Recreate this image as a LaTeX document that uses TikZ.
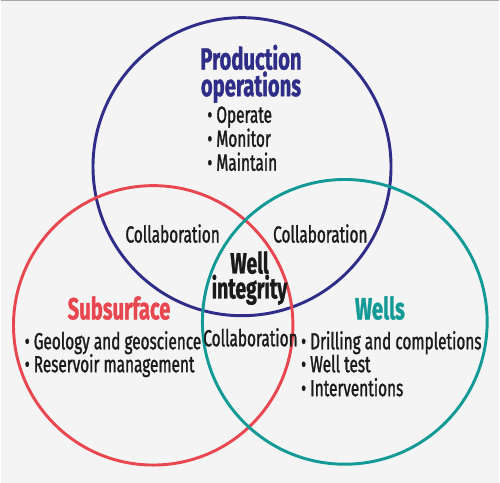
\documentclass[tikz,border=0pt]{standalone}
\usepackage{fontspec}
\setmainfont{Fira Sans}[FakeStretch=0.66,BoldFeatures={FakeBold=1}]
\newfontfamily\itemfont{Fira Sans}[FakeStretch=0.66,FakeBold=1.2]
\usepackage{xcolor}

\definecolor{prodblue}{HTML}{2E2D88}
\definecolor{subred}{HTML}{E8474F}
\definecolor{wellteal}{HTML}{139A96}
\definecolor{bggray}{HTML}{F4F4F4}
\definecolor{txtdark}{HTML}{1A1A1A}

\tikzset{
  ring/.style={circle,draw=#1,line width=2.2pt,inner sep=0pt},
  head/.style={inner sep=0pt,text=#1,font=\fontsize{23}{18}\selectfont\bfseries},
  item/.style={inner sep=0pt,anchor=base west,text=txtdark,font=\itemfont\fontsize{17.5}{18}\selectfont},
  collab/.style={item},
  core/.style={inner sep=0pt,text=txtdark,align=center,font=\fontsize{22}{18.75}\selectfont\bfseries}
}

\begin{document}
\begin{tikzpicture}[x=0.75pt,y=-0.75pt]
            \fill[bggray] (0,0) rectangle (500,484);
            \draw[gray!70,line width=0.8pt] (0,0.5) -- (500,0.5);
            \useasboundingbox (0,0) rectangle (500,484);
            % the three circles
            \node (prod) at (242,167) [ring=prodblue,minimum size=224pt] {};
            \node (sub) at (153,326) [ring=subred,minimum size=210pt] {};
            \node (wells) at (345,322.5) [ring=wellteal,minimum size=214pt] {};
            % production operations
            \node (prodt) at (251,44.5) [head=prodblue,anchor=north,align=center] {Production\\operations};
            \node (op) at (207,123) [item] {\textbullet\ Operate};
            \node (mon) at (207,147) [item] {\textbullet\ Monitor};
            \node (mai) at (207,171) [item] {\textbullet\ Maintain};
            % subsurface
            \node (subt) at (67,320) [head=subred,anchor=base west] {Subsurface};
            \node (geo) at (24,350) [item] {\textbullet\ Geology and geoscience};
            \node (res) at (24,373) [item] {\textbullet\ Reservoir management};
            % wells
            \node (wellt) at (355,320) [head=wellteal,anchor=base west] {Wells};
            \node (dri) at (301,350) [item] {\textbullet\ Drilling and completions};
            \node (wte) at (301,373) [item] {\textbullet\ Well test};
            \node (int) at (301,397) [item] {\textbullet\ Interventions};
            % overlaps
            \node (colps) at (125,243) [collab] {Collaboration};
            \node (colpw) at (273,243) [collab] {Collaboration};
            \node (colsw) at (203,347) [collab] {Collaboration};
            \node (wi) at (249.5,251.5) [core,anchor=north] {Well\\integrity};
        \end{tikzpicture}
\end{document}
